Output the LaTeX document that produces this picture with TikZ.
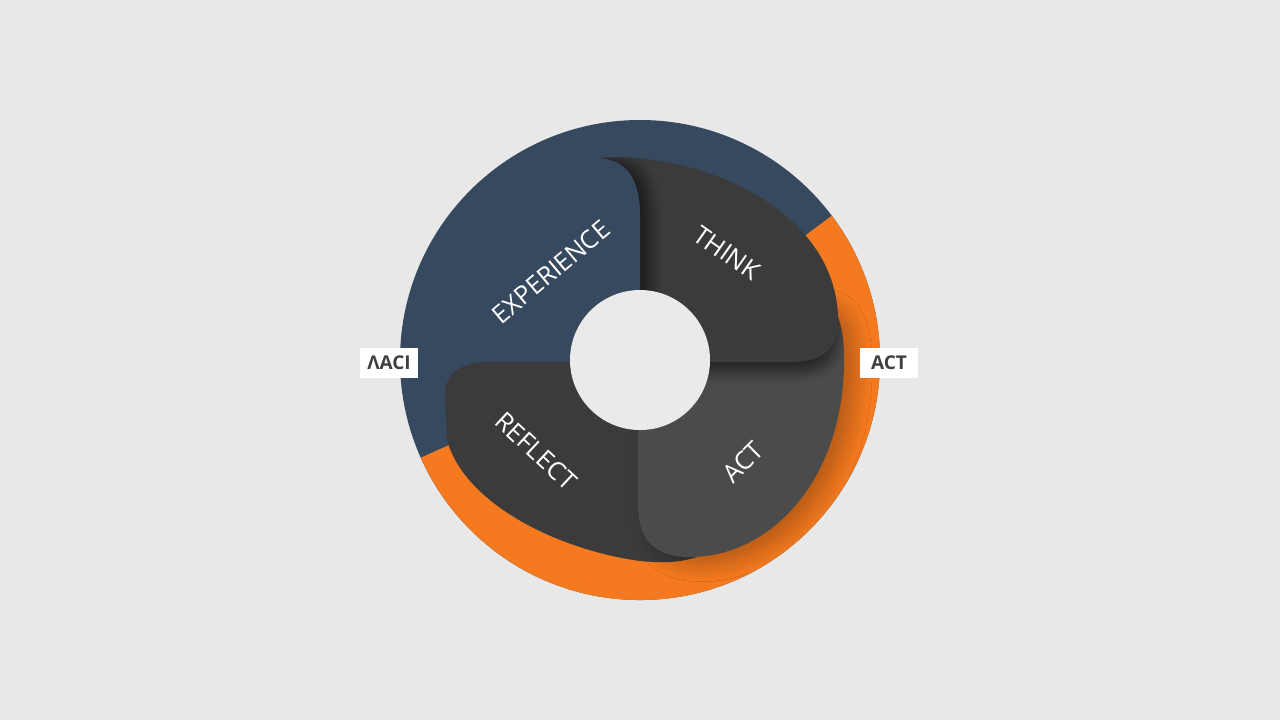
\documentclass[tikz,border=0pt]{standalone}
\usepackage{fontspec}
\setmainfont{Open Sans}
\usetikzlibrary{shadows.blur}
\definecolor{bg}{HTML}{E8E8E8}
\definecolor{ringblue}{HTML}{36495E}
\definecolor{ringorange}{HTML}{F57A1F}
\definecolor{lobedark}{HTML}{3B3B3B}
\definecolor{lobemid}{HTML}{4B4B4B}
\definecolor{holecol}{HTML}{EAEAEA}
\begin{document}
\begin{tikzpicture}[x=0.01cm,y=-0.01cm,
  lbl/.style={text=white,inner sep=0pt,font=\fontsize{7.2}{8}\selectfont},
  side/.style={fill=white,text=black!75,inner sep=0pt,minimum width=0.58cm,minimum height=0.30cm,font=\fontsize{5.4}{6}\selectfont\bfseries},
  shright/.style={blur shadow={shadow xshift=3pt,shadow yshift=0pt,shadow blur radius=3pt,shadow blur steps=10,shadow opacity=50}},
  shdown/.style={blur shadow={shadow xshift=0pt,shadow yshift=-3pt,shadow blur radius=3pt,shadow blur steps=10,shadow opacity=50}},
  shact/.style={blur shadow={shadow xshift=3pt,shadow yshift=-2pt,shadow blur radius=5pt,shadow blur steps=16,shadow opacity=28}}]
\fill[bg] (0,0) rectangle (1280,720);
\useasboundingbox (0,0) rectangle (1280,720);
% outer ring
\fill[ringblue] (640,360) circle[radius=240];
\begin{scope}
  \clip (640,360) -- (960,119) -- (1000,100) -- (1000,720) -- (250,720) -- (274,523) -- cycle;
  \fill[ringorange] (640,360) circle[radius=240];
\end{scope}
% REFLECT lobe
\fill[lobedark] (700,420) -- (700,556) .. controls (680,563) and (662,563) .. (640,561)
  .. controls (560,550) and (465,505) .. (447,440) -- (445,395)
  .. controls (445,372) and (462,362) .. (490,362) -- (640,362) -- cycle;
% ACT lobe (shadow clipped to the disc)
\begin{scope}
  \clip (640,360) circle[radius=240];
  \fill[lobemid,shact] (660,300) -- (815,300) .. controls (835,300) and (844,320) .. (844,360)
    .. controls (844,480) and (770,557) .. (690,557) .. controls (655,557) and (638,540) .. (638,505)
    -- (638,300) -- cycle;
\end{scope}
% shadow of THINK falls on ACT only
\begin{scope}
  \clip (660,300) -- (815,300) .. controls (835,300) and (844,320) .. (844,360)
    .. controls (844,480) and (770,557) .. (690,557) .. controls (655,557) and (638,540) .. (638,505)
    -- (638,300) -- cycle;
  \fill[lobedark,shdown] (630,300) -- (598,158) .. controls (700,150) and (836,210) .. (838,318)
    .. controls (838,350) and (822,362) .. (790,362) -- (640,362) -- cycle;
\end{scope}
% THINK lobe
\fill[lobedark] (630,300) -- (598,158) .. controls (700,150) and (836,210) .. (838,318)
  .. controls (838,350) and (822,362) .. (790,362) -- (640,362) -- cycle;
% shadow of EXPERIENCE falls on THINK only
\begin{scope}
  \clip (630,300) -- (598,158) .. controls (700,150) and (836,210) .. (838,318)
    .. controls (838,350) and (822,362) .. (790,362) -- (640,362) -- cycle;
  \fill[ringblue,shright] (640,355) -- (640,217) .. controls (640,180) and (628,160) .. (598,158)
    -- (540,150) -- (470,220) -- (410,355) -- cycle;
\end{scope}
% EXPERIENCE lobe
\fill[ringblue] (640,355) -- (640,217) .. controls (640,180) and (628,160) .. (598,158)
  -- (540,150) -- (470,220) -- (410,355) -- cycle;
% hole
\fill[holecol] (640,360) circle[radius=70];
% labels
\node[lbl,rotate=40] (exp) at (551,272) {EXPERIENCE};
\node[lbl,rotate=-35] (think) at (727,253) {THINK};
\node[lbl,rotate=-43] (refl) at (536,451) {REFLECT};
\node[lbl,rotate=45] (act) at (743,462) {ACT};
\node[side] (lside) at (389,363) {ΛACI};
\node[side] (rside) at (889,363) {ACT};
\end{tikzpicture}
\end{document}
